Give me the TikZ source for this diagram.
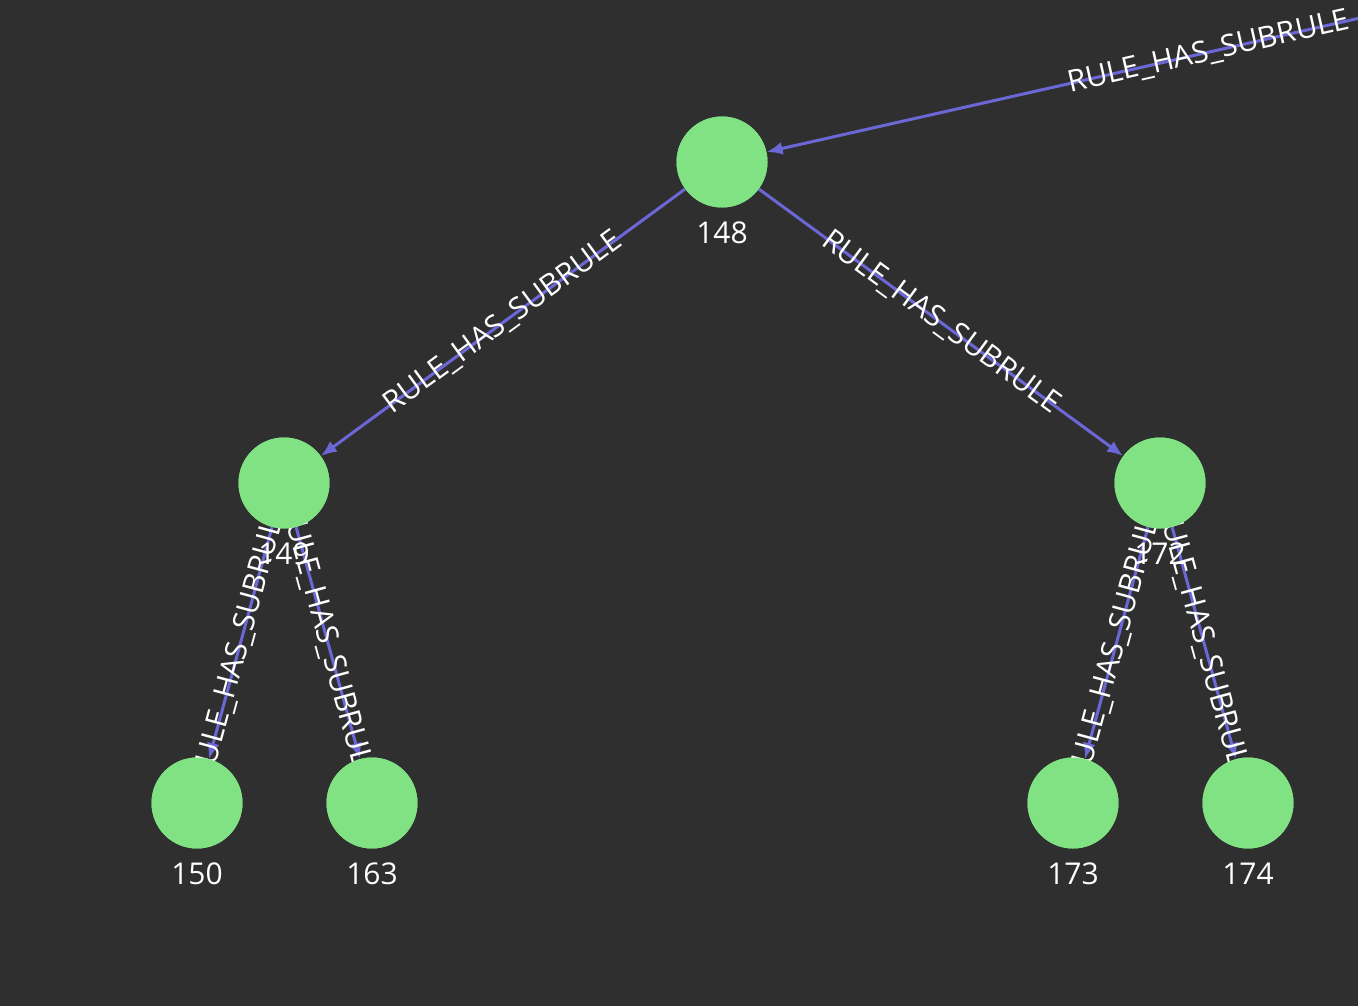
\documentclass[tikz,border=0pt]{standalone}
\usepackage{fontspec}
\setmainfont{Open Sans}
\usetikzlibrary{arrows.meta}
\definecolor{bg}{HTML}{2F2F2F}
\definecolor{edgec}{HTML}{6B67D6}
\definecolor{nodec}{HTML}{80E283}
\tikzset{
  vert/.style={circle,fill=nodec,minimum size=91pt,inner sep=0pt},
  vlab/.style={text=white,font=\fontsize{30}{32}\selectfont},
  rel/.style={draw=edgec,line width=3pt,-{Latex[length=16pt,width=13pt]}},
  rlab/.style={text=white,font=\fontsize{30}{32}\selectfont,sloped,inner sep=1pt}
}
\begin{document}
\begin{tikzpicture}[x=1pt,y=-1pt]
\fill[bg] (0,0) rectangle (1358,1006);
\useasboundingbox (0,0) rectangle (1358,1006);
\coordinate (off) at (1360,18);
\node[vert] (n148) at (722,162) {};
\node[vert] (n149) at (284,483) {};
\node[vert] (n172) at (1160,483) {};
\node[vert] (n150) at (197,803) {};
\node[vert] (n163) at (372,803) {};
\node[vert] (n173) at (1073,803) {};
\node[vert] (n174) at (1248,803) {};
\draw[rel] (off) -- (n148) node[rlab,pos=0.255] {RULE\_HAS\_SUBRULE};
\draw[rel] (n148) -- (n149) node[rlab,midway] {RULE\_HAS\_SUBRULE};
\draw[rel] (n148) -- (n172) node[rlab,midway] {RULE\_HAS\_SUBRULE};
\draw[rel] (n149) -- (n150) node[rlab,midway] {RULE\_HAS\_SUBRULE};
\draw[rel] (n149) -- (n163) node[rlab,midway] {RULE\_HAS\_SUBRULE};
\draw[rel] (n172) -- (n173) node[rlab,midway] {RULE\_HAS\_SUBRULE};
\draw[rel] (n172) -- (n174) node[rlab,midway] {RULE\_HAS\_SUBRULE};
\foreach \n in {148,149,172,150,163,173,174} {
  \node[vert] at (n\n) {};
  \node[vlab] at ([yshift=-71pt]n\n.center) {\n};
}
\end{tikzpicture}
\end{document}
